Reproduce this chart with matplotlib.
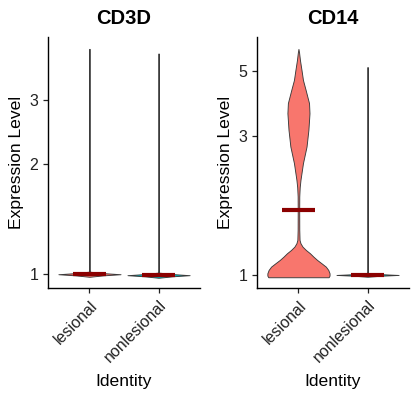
import numpy as np
import matplotlib.pyplot as plt
from matplotlib.ticker import NullLocator

plt.rcParams['font.family'] = ['Liberation Sans', 'DejaVu Sans']

# groups and colours
groups = ['lesional', 'nonlesional']
colors = ['#F8766D', '#00BFC4']

# violin profiles: expression level -> relative density
cd3d_les_lvl = [0.984, 0.993, 1.0, 1.007, 1.016, 1.03, 4.13]
cd3d_les_den = [0.0, 0.45, 1.0, 0.45, 0.02, 0.0, 0.0]
cd3d_non_lvl = [0.978, 0.987, 0.994, 1.001, 1.01, 1.025, 4.01]
cd3d_non_den = [0.0, 0.45, 1.0, 0.45, 0.02, 0.0, 0.0]

cd14_les_lvl = [0.982, 0.995, 1.013, 1.040, 1.068, 1.097, 1.126, 1.156, 1.187,
                1.218, 1.251, 1.285, 1.319, 1.43, 1.67, 1.86, 2.0, 2.12, 2.42,
                2.76, 3.15, 3.59, 3.89, 4.32, 4.67, 5.06, 5.47, 5.8, 5.97]
cd14_les_den = [0.97, 1.0, 1.0, 0.96, 0.88, 0.74, 0.60, 0.48, 0.37,
                0.24, 0.13, 0.065, 0.035, 0.026, 0.024, 0.026, 0.04, 0.065, 0.145,
                0.26, 0.32, 0.355, 0.34, 0.23, 0.145, 0.097, 0.048, 0.02, 0.0]
cd14_non_lvl = [0.986, 0.994, 1.0, 1.006, 1.014, 1.03, 5.17]
cd14_non_den = [0.0, 0.45, 1.0, 0.45, 0.02, 0.0, 0.0]

cd3d_median = [1.0, 0.994]
cd14_median = [1.67, 1.0]

panels = [
    ('CD3D', [(cd3d_les_lvl, cd3d_les_den), (cd3d_non_lvl, cd3d_non_den)],
     cd3d_median, [1, 2, 3], (0.917, 4.45)),
    ('CD14', [(cd14_les_lvl, cd14_les_den), (cd14_non_lvl, cd14_non_den)],
     cd14_median, [1, 3, 5], (0.902, 6.56)),
]

fig = plt.figure(figsize=(4.17, 3.98), dpi=100)
lefts = [48 / 417, 257 / 417]

for left, (title, profiles, medians, yticks, ylim) in zip(lefts, panels):
    ax = fig.add_axes([left, 110 / 398, 152 / 417, 251 / 398])
    for i, (lvl, den) in enumerate(profiles):
        pos = i + 1
        d = np.array(den) * 0.45
        ax.fill_betweenx(lvl, pos - d, pos + d, facecolor=colors[i],
                         edgecolor='#3a3a3a', linewidth=0.65)
        ax.hlines(medians[i], pos - 0.245, pos + 0.245, color='#8B0000',
                  linewidth=3)
    ax.set_yscale('log')
    ax.set_ylim(*ylim)
    ax.set_xlim(0.4, 2.6)
    ax.set_yticks(yticks)
    ax.set_yticklabels([str(t) for t in yticks])
    ax.yaxis.set_minor_locator(NullLocator())
    ax.set_xticks([1, 2])
    ax.set_xticklabels(groups, rotation=45, ha='right', rotation_mode='anchor')
    ax.tick_params(labelsize=11.5, length=3.5, width=0.9, color='#222222',
                   labelcolor='#222222')
    for s in ['top', 'right']:
        ax.spines[s].set_visible(False)
    for s in ['left', 'bottom']:
        ax.spines[s].set_linewidth(1.0)
    ax.set_title(title, fontsize=14.5, fontweight='bold', pad=9)
    ax.set_xlabel('Identity', fontsize=12.6, labelpad=6)
    ax.set_ylabel('Expression Level', fontsize=12.6)

fig.savefig('out.png', dpi=100)
